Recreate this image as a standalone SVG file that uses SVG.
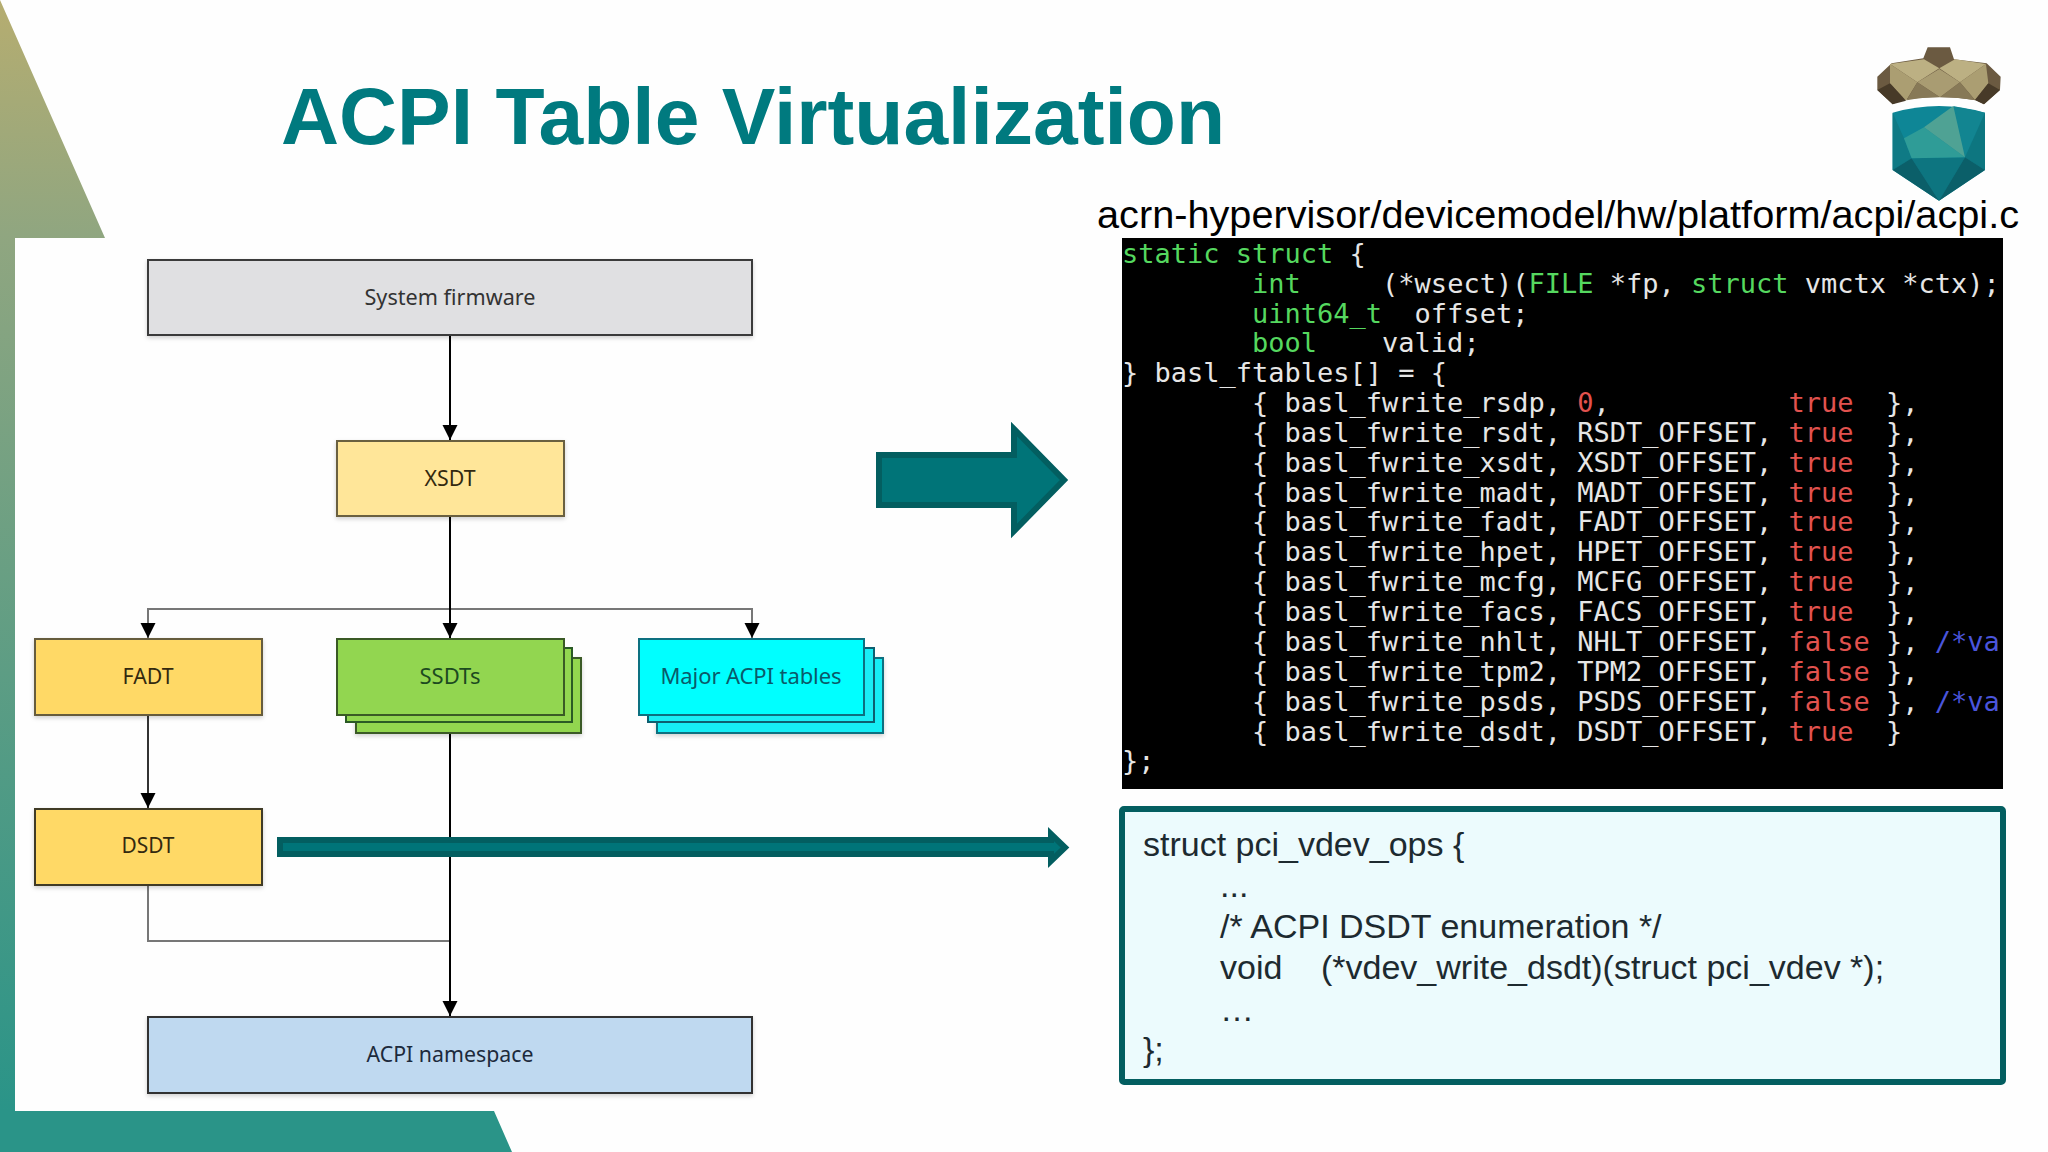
<svg xmlns="http://www.w3.org/2000/svg" width="2048" height="1152" viewBox="0 0 2048 1152">
<style>
.node{stroke-width:2}
.shadow{filter:url(#sh)}
.lbl{font-family:"Noto Sans","Open Sans",sans-serif;font-size:22px;text-anchor:middle}
.code{font-family:"DejaVu Sans Mono",monospace;font-size:27px;fill:#e6e6e6;white-space:pre}
.g{fill:#55d85f}.r{fill:#e2524e}.b{fill:#4a55dc}
.ops{font-family:"Liberation Sans",Arial,sans-serif;font-size:34px;fill:#1d2a30;white-space:pre}
.blk{stroke:#000;stroke-width:2;fill:none}
.gry{stroke:#777;stroke-width:2;fill:none}
.big{fill:#007478;stroke:#035e60;stroke-width:6;stroke-linejoin:miter}
</style>
<defs>
<linearGradient id="bg" gradientUnits="userSpaceOnUse" x1="0" y1="0" x2="0" y2="1111">
<stop offset="0" stop-color="#b6ad70"/><stop offset="0.21" stop-color="#90a680"/><stop offset="1" stop-color="#2a9488"/>
</linearGradient>
<filter id="sh" x="-5%" y="-10%" width="110%" height="125%">
<feDropShadow dx="0" dy="2" stdDeviation="2" flood-color="#000" flood-opacity="0.18"/>
</filter>
<marker id="ah" markerUnits="userSpaceOnUse" markerWidth="16" markerHeight="16" refX="15" refY="8" orient="auto">
<path d="M0,0.5 L15,8 L0,15.5 Z" fill="#000"/>
</marker>
</defs>
<rect width="2048" height="1152" fill="#fefefe"/>
<g id="decor">
<path d="M0,0 L105,238 H15 V1111 H494 L512,1152 H0 Z" fill="url(#bg)"/>
</g>
<text id="title" x="281" y="144" font-family="Liberation Sans, Arial, sans-serif" font-weight="700" font-size="80.4" fill="#007a7f">ACPI Table Virtualization</text>
<g id="logo" transform="translate(1780,20) scale(0.3333)">
<path d="M292,170 L335,130 L430,115 L443,82 H510 L522,118 L620,130 L662,170 L660,210 L612,253 L585,240 Q478,222 365,240 L338,253 L292,210 Z" fill="#6b5a41"/>
<path d="M330,132 L432,118 L478,145 L412,187 Z" fill="#bcb083"/>
<path d="M478,145 L525,118 L618,132 L540,187 Z" fill="#bcb083"/>
<path d="M412,187 L478,147 L540,187 L480,232 Z" fill="#a99c72"/>
<path d="M330,132 L412,187 L378,242 L330,190 Z" fill="#ab9e72"/>
<path d="M618,132 L540,187 L585,240 L625,190 Z" fill="#ab9e72"/>
<path d="M412,187 L480,232 Q425,232 380,241 Z" fill="#877957"/>
<path d="M540,187 L480,232 Q535,232 585,241 Z" fill="#877957"/>
<path d="M292,210 L330,190 L378,242 L338,253 Z" fill="#473a28"/>
<path d="M660,210 L625,190 L585,240 L612,253 Z" fill="#473a28"/>
<path d="M338,278 Q478,238 615,278 V450 L477,542 L338,450 Z" fill="#0e8696"/>
<path d="M520,258 L615,278 L555,412 Z" fill="#128591"/>
<path d="M338,278 L372,355 L395,415 L338,450 Z" fill="#0f7a85"/>
<path d="M615,278 V450 L555,412 Z" fill="#0d7680"/>
<path d="M395,415 L555,412 L477,542 Z" fill="#0d7580"/>
<path d="M338,450 L395,415 L477,542 Z" fill="#0b5f69"/>
<path d="M615,450 L555,412 L477,542 Z" fill="#0b5f69"/>
<path d="M432,322 L555,412 L395,415 L372,355 Z" fill="#2f9c97"/>
<path d="M520,258 L555,412 L432,322 Z" fill="#4fa294"/>
</g>
<g id="connectors">
<path class="gry" d="M450,609 H148 V638" marker-end="url(#ah)"/>
<path class="gry" d="M450,609 H752 V638" marker-end="url(#ah)"/>
<path class="gry" d="M148,885 V941 H450"/>
<path class="blk" style="stroke:#333" d="M148,715 V808" marker-end="url(#ah)"/>
<path class="blk" d="M450,335 V440" marker-end="url(#ah)"/>
<path class="blk" d="M450,516 V638" marker-end="url(#ah)"/>
<path class="blk" d="M450,733 V1016" marker-end="url(#ah)"/>
</g>
<g id="system-firmware">
<rect class="node shadow" x="148" y="260" width="604" height="75" fill="#e0e0e2" stroke="#3a3a3a"/>
<text class="lbl" x="450" y="305" fill="#333" textLength="171" lengthAdjust="spacingAndGlyphs">System firmware</text>
</g>
<g id="xsdt">
<rect class="node shadow" x="337" y="441" width="227" height="75" fill="#ffe699" stroke="#6b6040"/>
<text class="lbl" x="450" y="486" fill="#33290f" textLength="51" lengthAdjust="spacingAndGlyphs">XSDT</text>
</g>
<g id="fadt">
<rect class="node shadow" x="35" y="639" width="227" height="76" fill="#ffd966" stroke="#665c3c"/>
<text class="lbl" x="148" y="684" fill="#33290f" textLength="51" lengthAdjust="spacingAndGlyphs">FADT</text>
</g>
<g id="ssdts">
<rect class="node shadow" x="356" y="658" width="225" height="75" fill="#92d650" stroke="#3a5a25"/>
<rect class="node" x="346" y="648" width="226" height="74" fill="#92d650" stroke="#2a5a25"/>
<rect class="node" x="337" y="639" width="227" height="76" fill="#92d650" stroke="#3a5a25"/>
<text class="lbl" x="450" y="684" fill="#1c4a20" textLength="61" lengthAdjust="spacingAndGlyphs">SSDTs</text>
</g>
<g id="major-acpi-tables">
<rect class="node shadow" x="657" y="658" width="226" height="75" fill="#19eef5" stroke="#0d7080"/>
<rect class="node" x="648" y="648" width="226" height="74" fill="#19eef5" stroke="#0d5f70"/>
<rect class="node" x="639" y="639" width="225" height="76" fill="#00ffff" stroke="#0d7080"/>
<text class="lbl" x="751" y="684" fill="#0a5a6a" textLength="181" lengthAdjust="spacing">Major ACPI tables</text>
</g>
<g id="dsdt">
<rect class="node shadow" x="35" y="809" width="227" height="76" fill="#ffd966" stroke="#3f3a28"/>
<text class="lbl" x="148" y="853" fill="#33290f" textLength="53" lengthAdjust="spacingAndGlyphs">DSDT</text>
</g>
<g id="acpi-namespace">
<rect class="node shadow" x="148" y="1017" width="604" height="76" fill="#bfd9f0" stroke="#333"/>
<text class="lbl" x="450" y="1062" fill="#1c2a3c" textLength="167" lengthAdjust="spacingAndGlyphs">ACPI namespace</text>
</g>
<g id="block-arrows">
<path class="big" d="M879,455 H1014 V429 L1064,480 L1014,531 V505 H879 Z"/>
<path class="big" d="M280,840 H1051 V834 L1065,847.5 L1051,861 V854 H280 Z"/>
</g>
<text id="path" x="1097" y="228" font-family="Liberation Sans, Arial, sans-serif" font-size="39.7" fill="#000">acrn-hypervisor/devicemodel/hw/platform/acpi/acpi.c</text>
<g id="code-box">
<rect x="1122" y="238" width="881" height="551" fill="#000"/>
<text class="code" x="1122" y="263"><tspan class="g">static struct</tspan> {</text>
<text class="code" x="1122" y="293">        <tspan class="g">int</tspan>     (*wsect)(<tspan class="g">FILE</tspan> *fp, <tspan class="g">struct</tspan> vmctx *ctx);</text>
<text class="code" x="1122" y="322.5">        <tspan class="g">uint64_t</tspan>  offset;</text>
<text class="code" x="1122" y="352">        <tspan class="g">bool</tspan>    valid;</text>
<text class="code" x="1122" y="382">} basl_ftables[] = {</text>
<text class="code" x="1122" y="412">        { basl_fwrite_rsdp, <tspan class="r">0</tspan>,           <tspan class="r">true</tspan>  },</text>
<text class="code" x="1122" y="442">        { basl_fwrite_rsdt, RSDT_OFFSET, <tspan class="r">true</tspan>  },</text>
<text class="code" x="1122" y="471.5">        { basl_fwrite_xsdt, XSDT_OFFSET, <tspan class="r">true</tspan>  },</text>
<text class="code" x="1122" y="501.5">        { basl_fwrite_madt, MADT_OFFSET, <tspan class="r">true</tspan>  },</text>
<text class="code" x="1122" y="531">        { basl_fwrite_fadt, FADT_OFFSET, <tspan class="r">true</tspan>  },</text>
<text class="code" x="1122" y="561">        { basl_fwrite_hpet, HPET_OFFSET, <tspan class="r">true</tspan>  },</text>
<text class="code" x="1122" y="591">        { basl_fwrite_mcfg, MCFG_OFFSET, <tspan class="r">true</tspan>  },</text>
<text class="code" x="1122" y="621">        { basl_fwrite_facs, FACS_OFFSET, <tspan class="r">true</tspan>  },</text>
<text class="code" x="1122" y="651">        { basl_fwrite_nhlt, NHLT_OFFSET, <tspan class="r">false</tspan> }, <tspan class="b">/*va</tspan></text>
<text class="code" x="1122" y="681">        { basl_fwrite_tpm2, TPM2_OFFSET, <tspan class="r">false</tspan> },</text>
<text class="code" x="1122" y="711">        { basl_fwrite_psds, PSDS_OFFSET, <tspan class="r">false</tspan> }, <tspan class="b">/*va</tspan></text>
<text class="code" x="1122" y="741">        { basl_fwrite_dsdt, DSDT_OFFSET, <tspan class="r">true</tspan>  }</text>
<text class="code" x="1122" y="770">};</text>
</g>
<g id="ops-box">
<rect x="1122" y="809" width="881" height="273" rx="2" fill="#ecfbfd" stroke="#035e60" stroke-width="6"/>
<text class="ops" x="1143" y="856">struct pci_vdev_ops {</text>
<text class="ops" x="1220" y="897">...</text>
<text class="ops" x="1220" y="938">/* ACPI DSDT enumeration */</text>
<text class="ops" x="1220" y="979">void</text>
<text class="ops" x="1321" y="979">(*vdev_write_dsdt)(struct pci_vdev *);</text>
<text class="ops" x="1220" y="1021">…</text>
<text class="ops" x="1143" y="1061">};</text>
</g>
</svg>
